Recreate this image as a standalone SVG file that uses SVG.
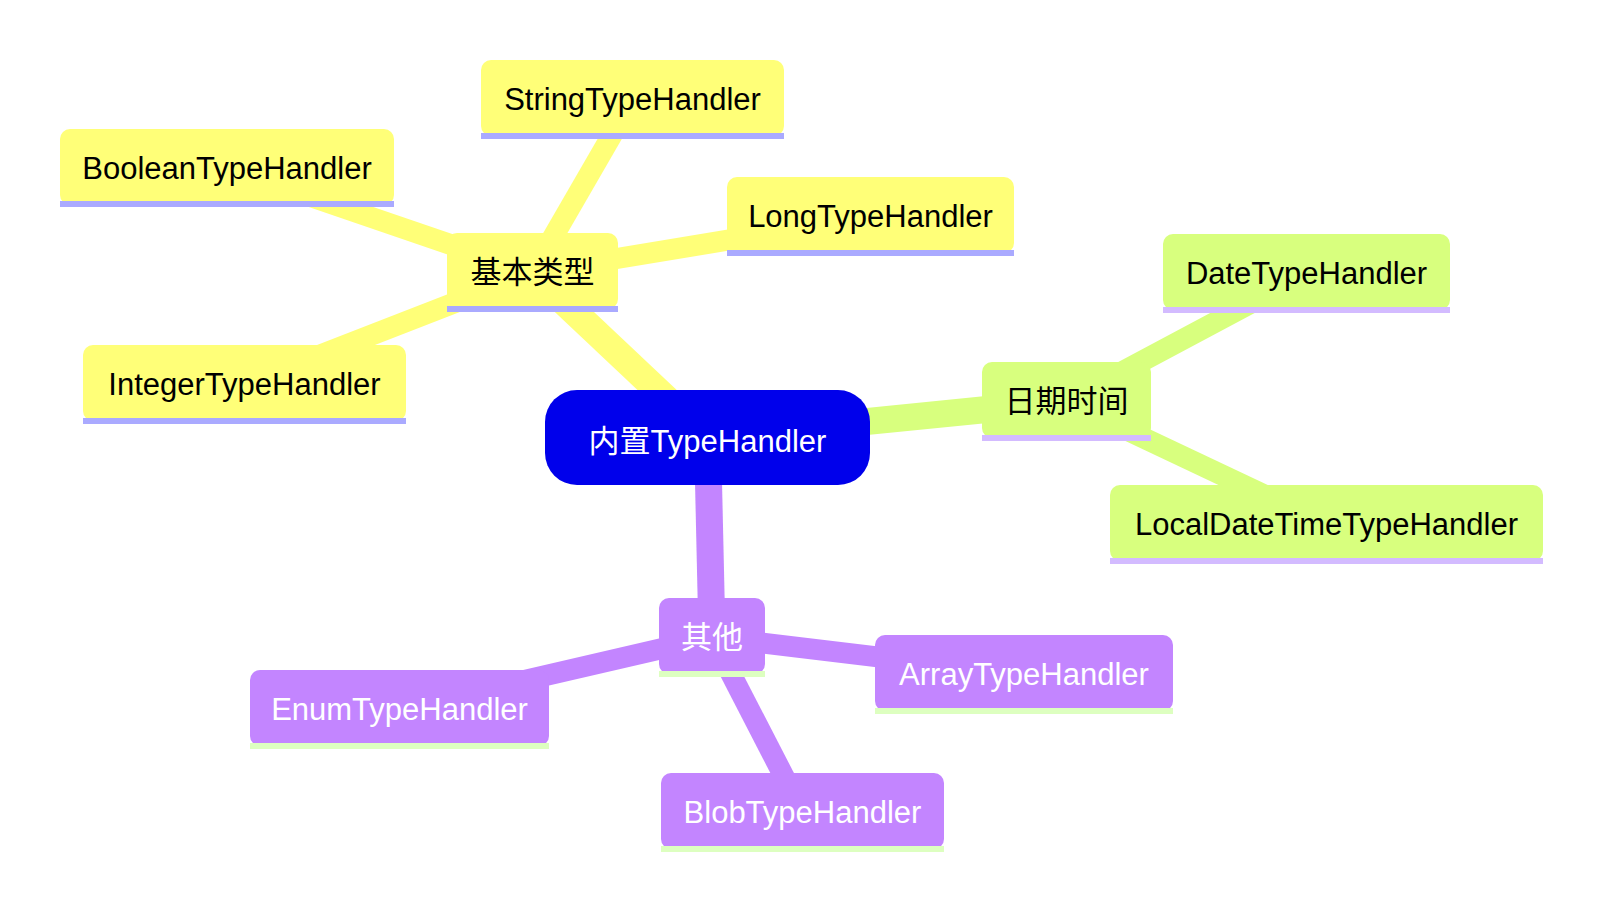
<svg xmlns="http://www.w3.org/2000/svg" width="1602" height="909" viewBox="0 0 1602 909">
<style>
text{font-family:"Liberation Sans","Noto Sans CJK SC",sans-serif;font-size:31px;text-anchor:middle}
.s0 rect.b{fill:#ffff78}.s0 rect.l{fill:#aaaaff}.s0 text{fill:#000}
.s1 rect.b{fill:#d8ff7e}.s1 rect.l{fill:#d3bbff}.s1 text{fill:#000}
.s2 rect.b{fill:#c385ff}.s2 rect.l{fill:#ddffc0}.s2 text{fill:#fff}
.e{fill:none;stroke-linecap:butt}
.e0{stroke:#ffff78}.e1{stroke:#d8ff7e}.e2{stroke:#c385ff}
.d1{stroke-width:27}.d2{stroke-width:21}
</style>
<rect width="1602" height="909" fill="#fff"/>
<g id="edges">
<line class="e e0 d1" x1="707.5" y1="437.5" x2="532.5" y2="272.5"/>
<line class="e e0 d2" x1="532.5" y1="272.5" x2="632.5" y2="99.5"/>
<line class="e e0 d2" x1="532.5" y1="272.5" x2="227" y2="168"/>
<line class="e e0 d2" x1="532.5" y1="272.5" x2="870.5" y2="216.5"/>
<line class="e e0 d2" x1="532.5" y1="272.5" x2="244.5" y2="384.5"/>
<line class="e e1 d1" x1="707.5" y1="437.5" x2="1066.5" y2="401.5"/>
<line class="e e1 d2" x1="1066.5" y1="401.5" x2="1306.5" y2="273.5"/>
<line class="e e1 d2" x1="1066.5" y1="401.5" x2="1326.5" y2="524.5"/>
<line class="e e2 d1" x1="707.5" y1="437.5" x2="712" y2="637"/>
<line class="e e2 d2" x1="712" y1="637" x2="1024" y2="674.5"/>
<line class="e e2 d2" x1="712" y1="637" x2="399.5" y2="709.5"/>
<line class="e e2 d2" x1="712" y1="637" x2="802.5" y2="812.5"/>
</g>
<g id="n-root">
<rect x="545" y="390" width="325" height="95" rx="32" fill="#0000eb"/>
<text x="707.5" y="452" fill="#fff">内置TypeHandler</text>
</g>
<g id="n-basic" class="s0">
<rect class="b" x="447" y="233" width="171" height="76" rx="10"/>
<rect class="l" x="447" y="306" width="171" height="6"/>
<text x="532.5" y="283">基本类型</text>
</g>
<g id="n-string" class="s0">
<rect class="b" x="481" y="60" width="303" height="76" rx="10"/>
<rect class="l" x="481" y="133" width="303" height="6"/>
<text x="632.5" y="110">StringTypeHandler</text>
</g>
<g id="n-boolean" class="s0">
<rect class="b" x="60" y="129" width="334" height="76" rx="10"/>
<rect class="l" x="60" y="201" width="334" height="6"/>
<text x="227" y="179">BooleanTypeHandler</text>
</g>
<g id="n-long" class="s0">
<rect class="b" x="727" y="177" width="287" height="76" rx="10"/>
<rect class="l" x="727" y="250" width="287" height="6"/>
<text x="870.5" y="227">LongTypeHandler</text>
</g>
<g id="n-integer" class="s0">
<rect class="b" x="83" y="345" width="323" height="76" rx="10"/>
<rect class="l" x="83" y="418" width="323" height="6"/>
<text x="244.5" y="395">IntegerTypeHandler</text>
</g>
<g id="n-datetime" class="s1">
<rect class="b" x="982" y="362" width="169" height="76" rx="10"/>
<rect class="l" x="982" y="435" width="169" height="6"/>
<text x="1066.5" y="412">日期时间</text>
</g>
<g id="n-date" class="s1">
<rect class="b" x="1163" y="234" width="287" height="76" rx="10"/>
<rect class="l" x="1163" y="307" width="287" height="6"/>
<text x="1306.5" y="284">DateTypeHandler</text>
</g>
<g id="n-ldt" class="s1">
<rect class="b" x="1110" y="485" width="433" height="76" rx="10"/>
<rect class="l" x="1110" y="558" width="433" height="6"/>
<text x="1326.5" y="535">LocalDateTimeTypeHandler</text>
</g>
<g id="n-other" class="s2">
<rect class="b" x="659" y="598" width="106" height="76" rx="10"/>
<rect class="l" x="659" y="671" width="106" height="6"/>
<text x="712" y="648">其他</text>
</g>
<g id="n-array" class="s2">
<rect class="b" x="875" y="635" width="298" height="76" rx="10"/>
<rect class="l" x="875" y="708" width="298" height="6"/>
<text x="1024" y="685">ArrayTypeHandler</text>
</g>
<g id="n-enum" class="s2">
<rect class="b" x="250" y="670" width="299" height="76" rx="10"/>
<rect class="l" x="250" y="743" width="299" height="6"/>
<text x="399.5" y="720">EnumTypeHandler</text>
</g>
<g id="n-blob" class="s2">
<rect class="b" x="661" y="773" width="283" height="76" rx="10"/>
<rect class="l" x="661" y="846" width="283" height="6"/>
<text x="802.5" y="823">BlobTypeHandler</text>
</g>
</svg>
